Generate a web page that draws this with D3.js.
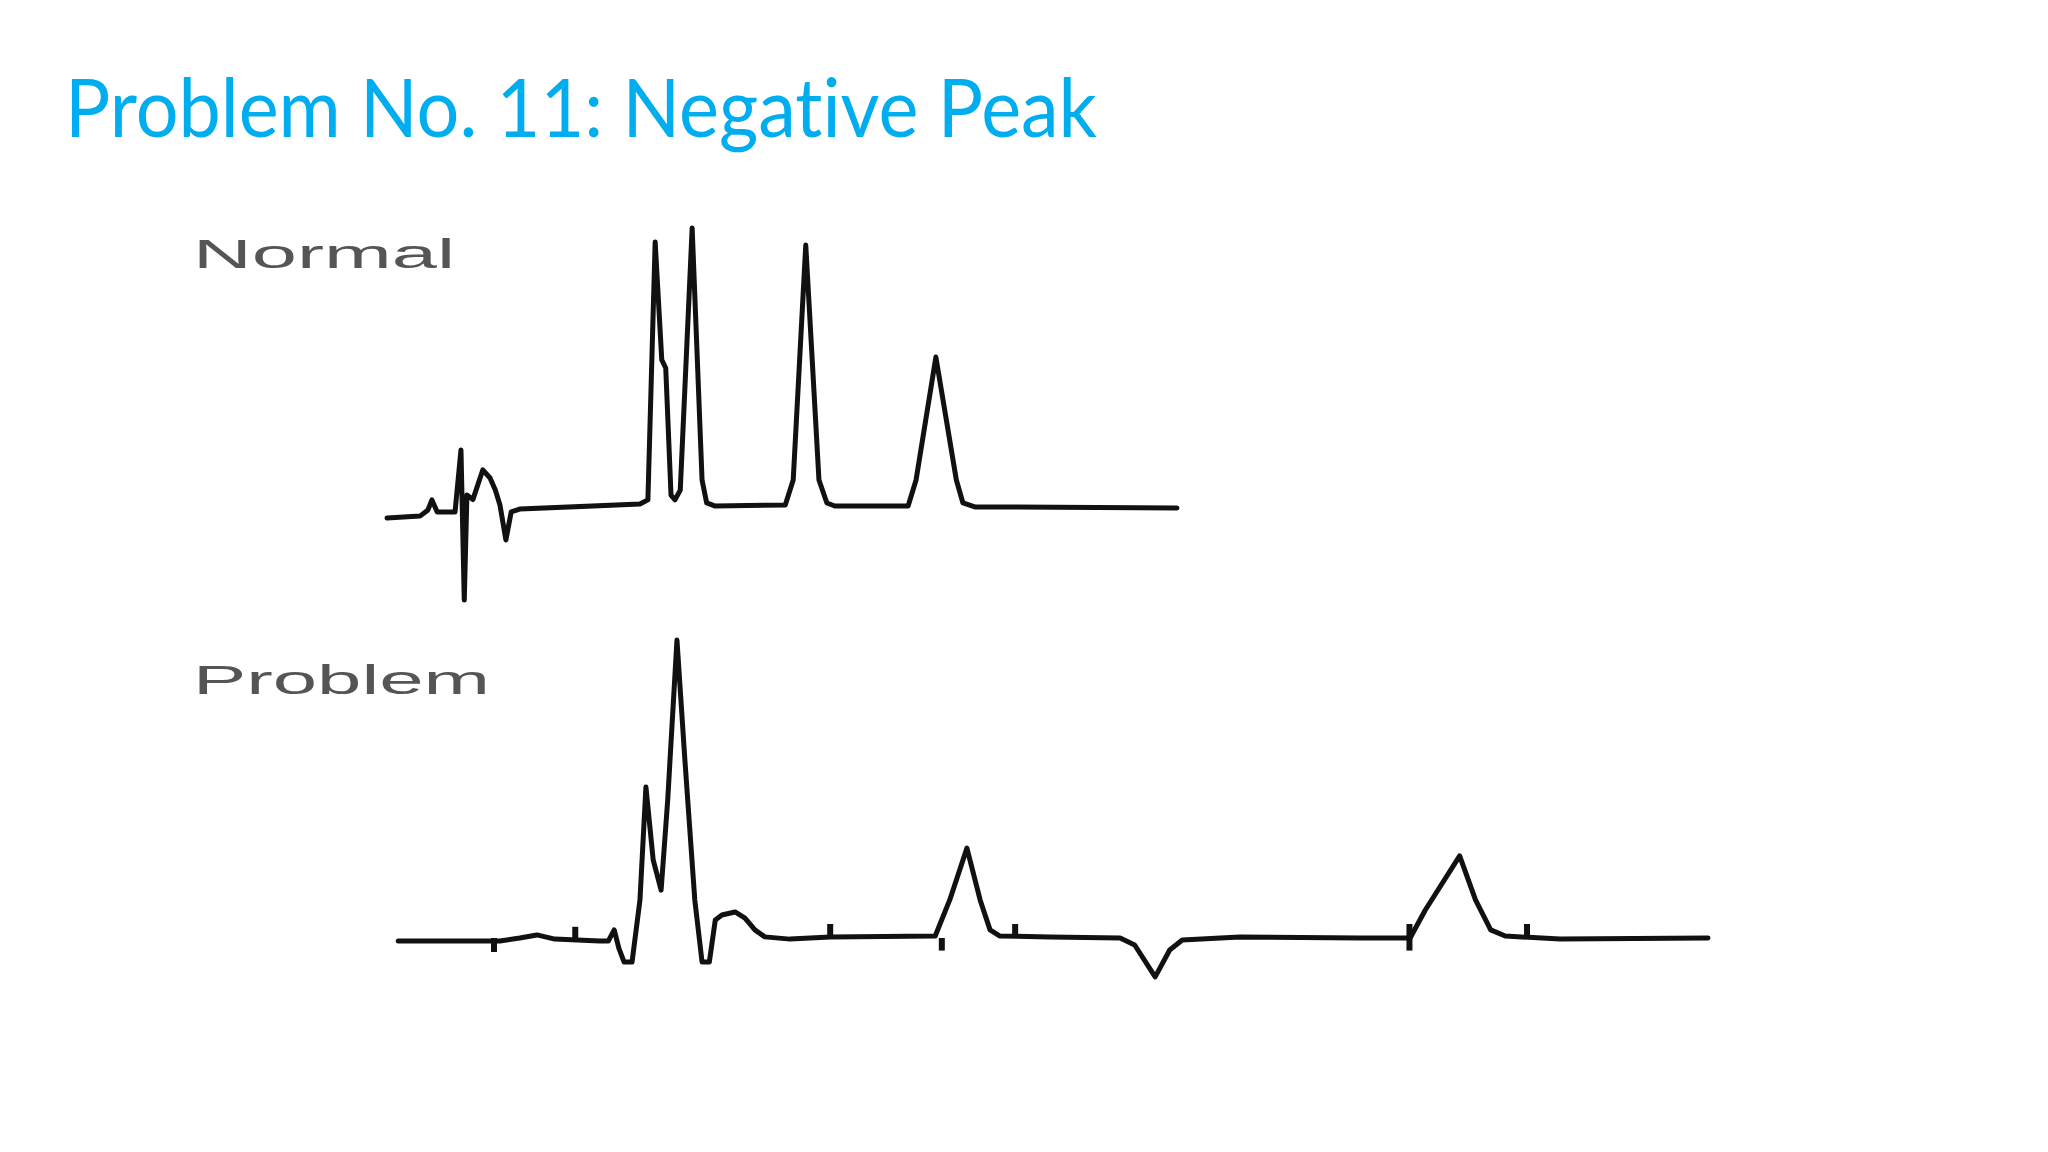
<!DOCTYPE html>
<html>
<head>
<meta charset="utf-8">
<script src="https://cdn.jsdelivr.net/npm/d3@7"></script>
<style>
  html, body { margin: 0; padding: 0; background: #ffffff; }
  svg { display: block; }
  text { font-variant-ligatures: none; }
</style>
</head>
<body>
<svg id="chart" width="2048" height="1152"></svg>
<script>
// ---------- DATA ----------
const titleText = "Problem No. 11: Negative Peak";
const traceLabels = ["Normal", "Problem"];

// Normal chromatogram: retention time (min) and detector signal (mAU)
const normalTime = [0.00, 0.50, 0.62, 0.68, 0.76, 1.03, 1.12, 1.17, 1.21, 1.30, 1.45, 1.56, 1.64, 1.71, 1.80, 1.88, 2.01,
  3.83, 3.95, 4.06, 4.16, 4.22, 4.30, 4.36, 4.44, 4.62, 4.77, 4.84, 4.97,
  6.03, 6.15, 6.34, 6.54, 6.66, 6.78,
  7.89, 8.01, 8.31, 8.62, 8.72, 8.90, 11.96];
const normalSignal = [-3.6, -2.9, -0.7, 2.9, -1.4, -1.4, 20.7, -32.9, 4.6, 3.0, 13.6, 10.7, 6.4, 1.1, -11.4, -1.4, -0.4,
  1.4, 2.9, 95.0, 52.9, 50.0, 4.6, 2.9, 6.4, 100.0, 10.0, 1.8, 0.7,
  1.1, 10.0, 93.9, 10.0, 1.8, 0.7,
  0.7, 10.0, 53.9, 10.0, 1.8, 0.4, 0.0];

// Problem chromatogram (with negative peak)
const problemTime = [0.17, 1.71, 2.01, 2.27, 2.54, 3.22, 3.35, 3.44, 3.51, 3.59, 3.71, 3.83, 3.92, 4.03, 4.15, 4.25, 4.39, 4.51, 4.66, 4.77, 4.88,
  4.97, 5.07, 5.27, 5.42, 5.57, 5.72, 6.10, 6.71, 8.30,
  8.52, 8.78, 8.98, 9.13, 9.28, 10.04, 11.10,
  11.32, 11.63, 11.85, 12.04, 12.91, 14.73, 15.49,
  15.72, 16.24, 16.48, 16.71, 16.93, 17.76, 20.00];
const problemSignal = [-1.1, -1.1, 0.0, 1.1, -0.4, -1.1, -1.1, 2.9, -3.6, -8.6, -8.6, 13.6, 53.9, 27.9, 17.1, 49.3, 106.4, 63.6, 13.6, -8.6, -8.6,
  6.4, 8.2, 9.3, 7.1, 2.9, 0.4, -0.4, 0.4, 0.7,
  13.6, 32.1, 13.6, 2.9, 0.7, 0.4, 0.0,
  -2.5, -13.9, -4.3, -0.7, 0.4, 0.0, 0.0,
  10.0, 29.3, 13.6, 2.9, 0.7, -0.4, 0.0];

// Integration event marks on the problem trace (time, low, high in mAU)
const markTime = [1.62, 2.85, 6.71, 8.40, 9.51, 15.48, 17.26];
const markLow  = [-5.0, 0.0, 0.0, -4.5, 0.0, -4.5, 0.0];
const markHigh = [0.0, 4.0, 5.0, 0.0, 5.0, 5.0, 5.0];

// ---------- DRAW ----------
const svg = d3.select("#chart");
svg.append("rect").attr("width", 2048).attr("height", 1152).attr("fill", "#ffffff");

svg.append("text")
  .attr("x", 65).attr("y", 137)
  .attr("font-family", "Lato, 'Open Sans', sans-serif")
  .attr("font-size", 82)
  .attr("textLength", 1032)
  .attr("lengthAdjust", "spacingAndGlyphs")
  .attr("fill", "#00ADEF")
  .text(titleText);

const x = d3.scaleLinear().domain([0, 20]).range([387, 1708]);
const yNormal = d3.scaleLinear().domain([-40, 110]).range([620, 200]);
const yProblem = d3.scaleLinear().domain([-40, 110]).range([1050, 630]);

// labels
svg.append("text")
  .attr("x", 193).attr("y", 268)
  .attr("font-family", "'Liberation Sans', Arial, sans-serif")
  .attr("font-size", 40)
  .attr("textLength", 262)
  .attr("lengthAdjust", "spacingAndGlyphs")
  .attr("fill", "#555555")
  .text(traceLabels[0]);
svg.append("text")
  .attr("x", 193).attr("y", 694)
  .attr("font-family", "'Liberation Sans', Arial, sans-serif")
  .attr("font-size", 40)
  .attr("textLength", 297)
  .attr("lengthAdjust", "spacingAndGlyphs")
  .attr("fill", "#555555")
  .text(traceLabels[1]);

const normalData = normalTime.map((t, i) => [t, normalSignal[i]]);
const problemData = problemTime.map((t, i) => [t, problemSignal[i]]);

const lineN = d3.line().x(d => x(d[0])).y(d => yNormal(d[1])).curve(d3.curveLinear);
const lineP = d3.line().x(d => x(d[0])).y(d => yProblem(d[1])).curve(d3.curveLinear);

svg.append("path").datum(normalData)
  .attr("d", lineN)
  .attr("fill", "none").attr("stroke", "#111111")
  .attr("stroke-width", 5).attr("stroke-linejoin", "round").attr("stroke-linecap", "round");

svg.append("path").datum(problemData)
  .attr("d", lineP)
  .attr("fill", "none").attr("stroke", "#111111")
  .attr("stroke-width", 5).attr("stroke-linejoin", "round").attr("stroke-linecap", "round");

svg.append("g").selectAll("line")
  .data(markTime.map((t, i) => ({t, lo: markLow[i], hi: markHigh[i]})))
  .join("line")
  .attr("x1", d => x(d.t)).attr("x2", d => x(d.t))
  .attr("y1", d => yProblem(d.lo)).attr("y2", d => yProblem(d.hi))
  .attr("stroke", "#111111").attr("stroke-width", 6);
</script>
</body>
</html>
